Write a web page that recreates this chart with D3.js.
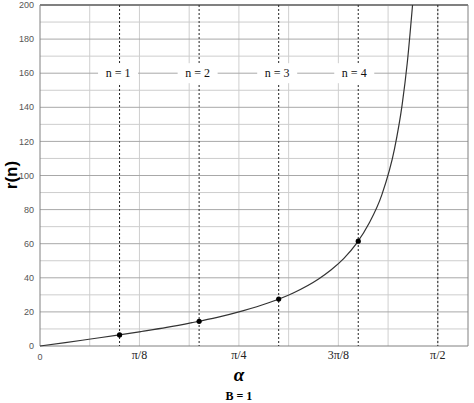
<!DOCTYPE html>
<html>
<head>
<meta charset="utf-8">
<script src="https://cdn.jsdelivr.net/npm/d3@7"></script>
<style>
  body { margin: 0; background: #fff; }
  svg { display: block; }
</style>
</head>
<body>
<div id="chart"></div>
<script>
// curve r(alpha), values
var curveAlpha = [0, 0.1, 0.2, 0.3, 0.4, 0.5, 0.6, 0.7, 0.8, 0.9, 1.0, 1.1, 1.15, 1.2, 1.25, 1.3, 1.35, 1.4, 1.43, 1.45, 1.471];
var curveR     = [0, 2.0, 4.1, 6.2, 8.5, 10.9, 13.7, 16.8, 20.6, 25.2, 31.1, 39.3, 44.7, 51.4, 60.2, 72.1, 88.8, 115.8, 141.6, 165.8, 200];

// marked points n = 1..4 (alpha = n*pi/10)
var pointN = [1, 2, 3, 4];
var pointR = [6.5, 14.5, 27.5, 61.5];
var dashedN = [1, 2, 3, 4, 5];

// x tick labels
var xTickVals = [Math.PI / 8, Math.PI / 4, 3 * Math.PI / 8, Math.PI / 2];
var xTickText = ['\u03c0/8', '\u03c0/4', '3\u03c0/8', '\u03c0/2'];
var yTicks = d3.range(0, 201, 20);

var SERIF = '"Liberation Serif", "Times New Roman", serif';
var SANS = '"Liberation Sans", Arial, sans-serif';

var w = 474, h = 403;
var svg = d3.select('#chart').append('svg').attr('width', w).attr('height', h);

var x = d3.scaleLinear().domain([0, 1.69]).range([40, 468]);
var y = d3.scaleLinear().domain([0, 200]).range([346, 5]);

// grid
var grid = svg.append('g');
grid.selectAll('line.v').data(d3.range(1, 9).map(function(k) { return k * Math.PI / 16; }))
  .enter().append('line')
  .attr('x1', function(d) { return x(d); }).attr('x2', function(d) { return x(d); })
  .attr('y1', y(200)).attr('y2', y(0))
  .attr('stroke', '#cfcfcf').attr('stroke-width', 1);
grid.selectAll('line.h').data(d3.range(10, 200, 10))
  .enter().append('line')
  .attr('x1', x(0)).attr('x2', x.range()[1])
  .attr('y1', function(d) { return y(d); }).attr('y2', function(d) { return y(d); })
  .attr('stroke', function(d) { return d % 20 === 0 ? '#a8a8a8' : '#cdcdcd'; })
  .attr('stroke-width', 1);

// frame
svg.append('line').attr('x1', x(0)).attr('x2', x.range()[1]).attr('y1', y(200)).attr('y2', y(200))
  .attr('stroke', '#808080').attr('stroke-width', 2);
svg.append('line').attr('x1', x.range()[1]).attr('x2', x.range()[1]).attr('y1', y(200)).attr('y2', y(0))
  .attr('stroke', '#808080').attr('stroke-width', 1);
svg.append('line').attr('x1', x(0)).attr('x2', x(0)).attr('y1', y(200)).attr('y2', y(0))
  .attr('stroke', '#808080').attr('stroke-width', 1);
svg.append('line').attr('x1', x(0)).attr('x2', x.range()[1]).attr('y1', y(0)).attr('y2', y(0))
  .attr('stroke', '#808080').attr('stroke-width', 1);

// dashed n lines
svg.append('g').selectAll('line').data(dashedN).enter().append('line')
  .attr('x1', function(d) { return x(d * Math.PI / 10); }).attr('x2', function(d) { return x(d * Math.PI / 10); })
  .attr('y1', y(200)).attr('y2', y(0))
  .attr('stroke', '#222').attr('stroke-width', 1).attr('stroke-dasharray', '2,2');

// n labels with white boxes
var lab = svg.append('g').selectAll('g').data(pointN).enter().append('g')
  .attr('transform', function(d) { return 'translate(' + (x(d * Math.PI / 10) - (d === 4 ? 4 : 1.5)) + ',' + y(160) + ')'; });
lab.append('rect').attr('x', -20).attr('y', -10).attr('width', 40).attr('height', 20).attr('fill', '#fff');
lab.append('text').attr('text-anchor', 'middle').attr('dy', '0.35em')
  .style('font-family', SERIF).style('font-size', '12px').attr('fill', '#111')
  .text(function(d) { return 'n = ' + d; });

// curve
var curveData = curveAlpha.map(function(a, i) { return { a: a, r: curveR[i] }; });
var line = d3.line()
  .x(function(d) { return x(d.a); })
  .y(function(d) { return y(d.r); })
  .curve(d3.curveMonotoneX);
svg.append('path').datum(curveData).attr('d', line)
  .attr('fill', 'none').attr('stroke', '#333').attr('stroke-width', 1.2);

// points
svg.append('g').selectAll('circle').data(pointN).enter().append('circle')
  .attr('cx', function(d) { return x(d * Math.PI / 10); })
  .attr('cy', function(d, i) { return y(pointR[i]); })
  .attr('r', 2.6).attr('fill', '#000');

// y tick labels
svg.append('g').selectAll('text').data(yTicks).enter().append('text')
  .attr('x', 34).attr('y', function(d) { return y(d); }).attr('dy', '0.35em')
  .attr('text-anchor', 'end')
  .style('font-family', SANS).style('font-size', '9px').attr('fill', '#555')
  .text(function(d) { return d; });

// x tick labels
svg.append('text').attr('x', x(0)).attr('y', 360).attr('text-anchor', 'middle')
  .style('font-family', SANS).style('font-size', '9px').attr('fill', '#555')
  .text('0');
svg.append('g').selectAll('text').data(xTickVals).enter().append('text')
  .attr('x', function(d) { return x(d); }).attr('y', 359).attr('text-anchor', 'middle')
  .style('font-family', SERIF).style('font-size', '12px').attr('fill', '#222')
  .text(function(d, i) { return xTickText[i]; });

// axis titles
svg.append('text').attr('x', x(Math.PI / 4)).attr('y', 381).attr('text-anchor', 'middle')
  .style('font-family', SERIF).style('font-size', '19px')
  .style('font-weight', 'bold').style('font-style', 'italic').attr('fill', '#000')
  .text('\u03b1');
svg.append('text').attr('x', x(Math.PI / 4)).attr('y', 400).attr('text-anchor', 'middle')
  .style('font-family', SERIF).style('font-size', '12px')
  .style('font-weight', 'bold').attr('fill', '#000')
  .text('B = 1');
svg.append('text').attr('transform', 'translate(17,175) rotate(-90)').attr('text-anchor', 'middle')
  .style('font-family', SANS).style('font-size', '17px')
  .style('font-weight', 'bold').attr('fill', '#000')
  .text('r(n)');
</script>
</body>
</html>
